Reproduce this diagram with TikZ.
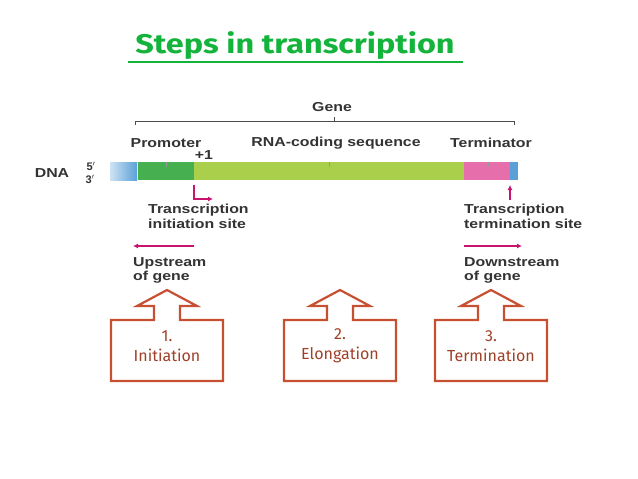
\documentclass[tikz,border=0pt]{standalone}
\usepackage{fontspec}
\setmainfont{Liberation Sans}
\newfontfamily\titlefont{Fira Sans}
\usetikzlibrary{arrows.meta}
\newcommand{\sx}[1]{\scalebox{1.22}[1]{#1}}
\definecolor{tgreen}{RGB}{20,180,60}
\definecolor{cbrown}{RGB}{200,80,50}
\definecolor{mag}{RGB}{200,20,110}
\definecolor{dblue}{RGB}{90,160,215}
\definecolor{dgreen}{RGB}{70,175,80}
\definecolor{lime}{RGB}{170,208,75}
\definecolor{pinkb}{RGB}{230,110,170}
\begin{document}
\begin{tikzpicture}[x=1pt,y=-1pt,
  lab/.style={font=\fontsize{13}{14.5}\selectfont\bfseries,text=black!80,inner sep=0pt},
  call/.style={draw=cbrown,line width=2.2pt,line join=miter},
  ctext/.style={font=\titlefont\fontsize{16}{20}\selectfont,text=cbrown!80!black,align=center,inner sep=0pt},
  marr/.style={draw=mag,line width=1.3pt,-{Latex[length=5pt,width=5pt]}}]
\useasboundingbox (0,0) rectangle (638,479);
\fill[white] (0,0) rectangle (638,479);
\node[font=\titlefont\fontsize{27}{28}\selectfont\bfseries,text=tgreen,inner sep=0pt] (title) at (295,46) {\scalebox{1.2}[1]{Steps in transcription}};
\draw[tgreen,line width=1.3pt] (128,62) -- (463,62);
% gene bracket
\draw[black!70,line width=0.7pt] (135,125) -- (135,121) -- (514,121) -- (514,125) (334,121) -- (334,117);
\node[lab] (gene) at (332,107) {\sx{Gene}};
\node[lab] (prom) at (166,143) {\sx{Promoter}};
\node[lab] (rna) at (336,143) {\sx{RNA-coding sequence}};
\node[lab] (term) at (491,143) {\sx{Terminator}};
% DNA bar
\shade[left color=white!70!dblue,right color=dblue] (110,162) rectangle (137,180);
\fill[dgreen] (137,162) rectangle (194,180);
\fill[lime] (194,162) rectangle (464,180);
\fill[pinkb] (464,162) rectangle (510,180);
\fill[dblue] (510,162) rectangle (518,180);
\draw[white!80!dgreen,line width=0.8pt] (137,162) -- (137,180);
\draw[black!40,line width=0.5pt] (166,162) -- (166,167) (329,162) -- (329,167) (488,162) -- (488,167);
\node[lab] (dna) at (52,173) {\sx{DNA}};
\node[lab,font=\fontsize{11}{11}\selectfont\bfseries] (p5) at (91,166) {5$'$};
\node[lab,font=\fontsize{11}{11}\selectfont\bfseries] (p3) at (90,179) {3$'$};
\node[lab] (plus) at (204,155) {\sx{+1}};
\coordinate (bs) at (194,185);
\coordinate (be) at (213,199);
\draw[mag,line width=1.3pt,-{Latex[length=5pt,width=5pt]}] (bs) |- (be);
\node[lab,align=left,anchor=north west] (tis) at (148,204) {\sx{Transcription}\\\sx{initiation site}};
\coordinate (ts) at (510,200);
\coordinate (te) at (510,185);
\draw[marr] (ts) -- (te);
\node[lab,align=left,anchor=north west] (tts) at (464,204) {\sx{Transcription}\\\sx{termination site}};
\coordinate (us) at (194,246);
\coordinate (ue) at (133,246);
\draw[marr] (us) -- (ue);
\node[lab,align=left,anchor=north west] (up) at (133,257) {\sx{Upstream}\\\sx{of gene}};
\coordinate (ds) at (464,246);
\coordinate (de) at (522,246);
\draw[marr] (ds) -- (de);
\node[lab,align=left,anchor=north west] (down) at (464,257) {\sx{Downstream}\\\sx{of gene}};
% callouts
\foreach \cx/\w/\t [count=\i] in {167/56/Initiation,340/56/Elongation,491/56/Termination}{
  \draw[call] (\cx-\w,320) -- (\cx-13,320) -- (\cx-13,306) -- (\cx-30,306) -- (\cx,290) -- (\cx+30,306) -- (\cx+13,306) -- (\cx+13,320) -- (\cx+\w,320) -- (\cx+\w,381) -- (\cx-\w,381) -- cycle;
  \node[ctext] (c\i) at (\cx,346) {\i.\\\t};
}
\end{tikzpicture}
\end{document}
